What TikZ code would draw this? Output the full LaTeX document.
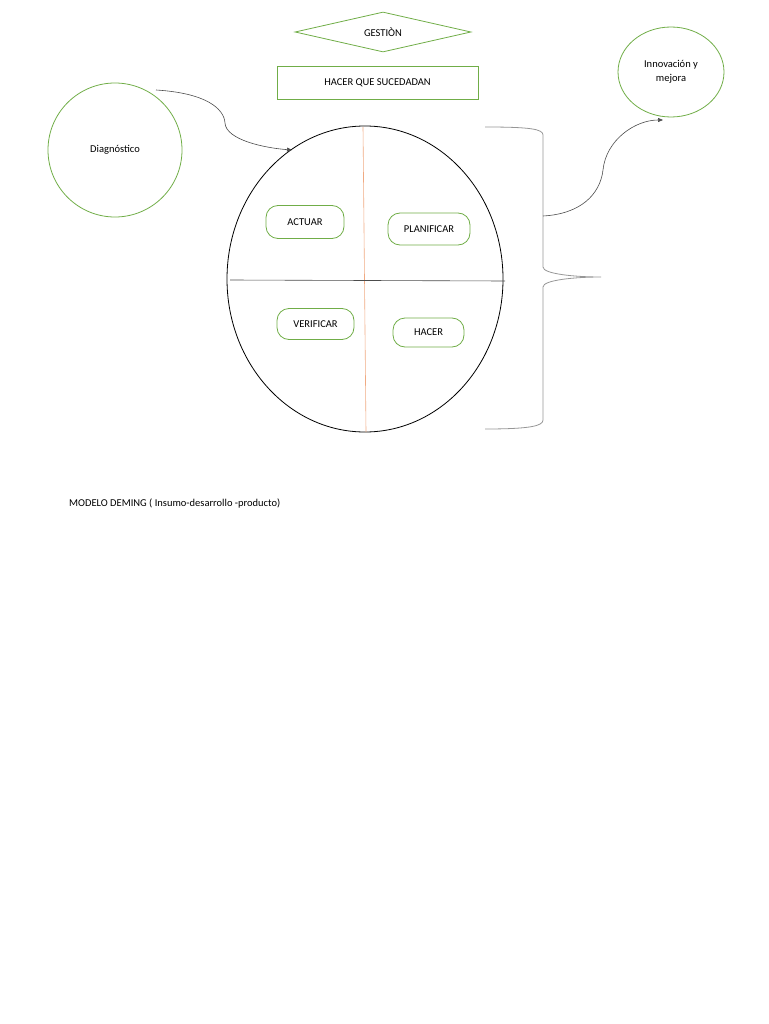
\documentclass[tikz,border=0pt]{standalone}
\usepackage{fontspec}
\setmainfont{Carlito}
\usetikzlibrary{shapes.geometric,arrows.meta}
\definecolor{grn}{RGB}{112,173,71}
\definecolor{org}{RGB}{240,170,130}
\definecolor{gry}{RGB}{150,150,150}
\begin{document}
\begin{tikzpicture}[x=1pt,y=-1pt,
  every node/.style={font=\fontsize{10.5}{14}\selectfont, text=black},
  greenline/.style={draw=grn, line width=0.8pt},
  pill/.style={greenline, rounded corners=12pt, rectangle, inner sep=0pt},
  conn/.style={draw=black!70, line width=0.6pt, -{Triangle[length=5pt,width=4pt]}}]
\useasboundingbox (0,0) rectangle (768,1024);
% top
\node[greenline, diamond, aspect=4.4, minimum width=176pt, minimum height=40pt, inner sep=0pt] (gestion) at (383,32) {GESTIÒN};
\node[greenline, rectangle, minimum width=201pt, minimum height=33pt, inner sep=0pt] (hacerque) at (377.5,82.5) {HACER QUE SUCEDADAN};
% side circles
\node[greenline, circle, minimum size=134pt, inner sep=0pt] (diag) at (115,150) {Diagnóstico};
\node[greenline, ellipse, minimum width=106pt, minimum height=90pt, inner sep=0pt, align=center] (innov) at (671,72) {Innovación y\\mejora};
% big ellipse
\node[draw=black, line width=0.8pt, ellipse, minimum width=276pt, minimum height=306pt, inner sep=0pt] (big) at (365,279) {};
\coordinate (vtop) at (363,127);
\coordinate (vbot) at (366,432);
\coordinate (hl) at (230,280);
\coordinate (hr) at (505,281);
\draw[org, line width=0.6pt] (vtop) -- (vbot);
\draw[black!70, line width=0.6pt] (hl) -- (hr);
% pills
\node[pill, minimum width=78pt, minimum height=33pt] (actuar) at (305,222) {ACTUAR};
\node[pill, minimum width=82pt, minimum height=32pt] (planif) at (429,229) {PLANIFICAR};
\node[pill, minimum width=77pt, minimum height=31pt] (verif) at (315.5,324) {VERIFICAR};
\node[pill, minimum width=71pt, minimum height=29pt] (hacer) at (428.5,332.5) {HACER};
% brace
\coordinate (b1) at (485,127);
\coordinate (b2) at (543,135);
\coordinate (b3) at (543,267);
\coordinate (btip) at (601,277);
\coordinate (b4) at (543,287);
\coordinate (b5) at (543,420);
\coordinate (b6) at (485,429);
\coordinate (bmid) at (543,216);
\draw[gry, line width=0.8pt] (b1) .. controls (530,127) and (543,129) .. (b2) -- (b3)
  .. controls (543,274) and (575,277) .. (btip)
  .. controls (575,277) and (543,280) .. (b4) -- (b5)
  .. controls (543,426) and (530,429) .. (b6);
% arrows
\coordinate (dstart) at (156,90);
\coordinate (dmid) at (225,123);
\draw[conn] (dstart) .. controls (205,93) and (224,108) .. (dmid)
  .. controls (226,140) and (265,148) .. (292,150);
\coordinate (imid) at (603,170);
\draw[conn] (bmid) .. controls (580,214) and (600,195) .. (imid)
  .. controls (606,140) and (635,120) .. (663,120);
% caption
\node[anchor=west, inner sep=0pt] (caption) at (69,504) {MODELO DEMING ( Insumo-desarrollo -producto)};
\end{tikzpicture}
\end{document}
